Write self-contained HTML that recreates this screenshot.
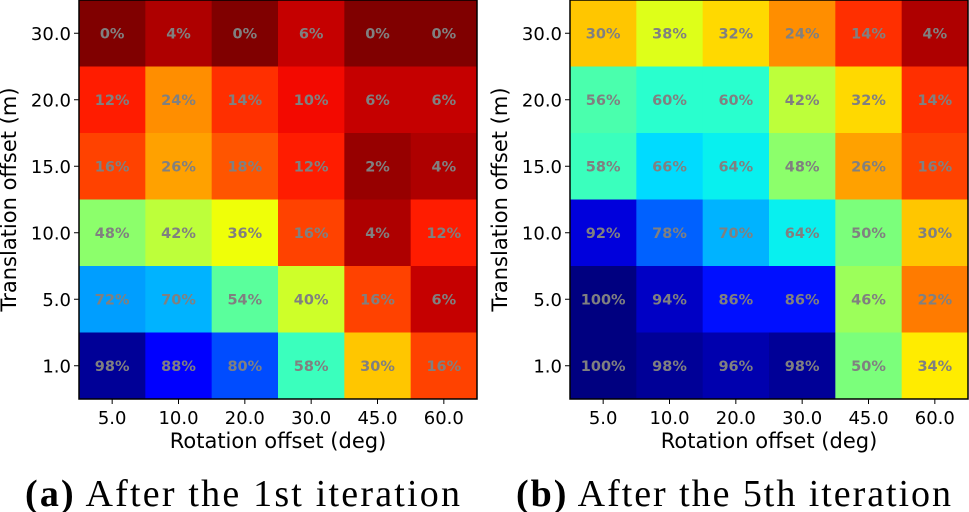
<!DOCTYPE html>
<html><head><meta charset="utf-8"><style>
body{margin:0;background:#fff;}
svg{display:block;}
</style></head><body>
<svg id="s" width="969" height="512" xmlns="http://www.w3.org/2000/svg"></svg>
<script>
const rotLabels=["5.0","10.0","20.0","30.0","45.0","60.0"];
const transLabels=["30.0","20.0","15.0","10.0","5.0","1.0"];
const valsA=[
[0,4,0,6,0,0],
[12,24,14,10,6,6],
[16,26,18,12,2,4],
[48,42,36,16,4,12],
[72,70,54,40,16,6],
[98,88,80,58,30,16]];
const valsB=[
[30,38,32,24,14,4],
[56,60,60,42,32,14],
[58,66,64,48,26,16],
[92,78,70,64,50,30],
[100,94,86,86,46,22],
[100,98,96,98,50,34]];
const NS="http://www.w3.org/2000/svg";
const svg=document.getElementById('s');
function mk(t,a,p){const e=document.createElementNS(NS,t);for(const k in a)e.setAttribute(k,a[k]);(p||svg).appendChild(e);return e;}
const segR=[[0,0],[0.35,0],[0.66,1],[0.89,1],[1,0.5]];
const segG=[[0,0],[0.125,0],[0.375,1],[0.64,1],[0.91,0],[1,0]];
const segB=[[0,0.5],[0.11,1],[0.34,1],[0.65,0],[1,0]];
function interp(seg,x){for(let i=1;i<seg.length;i++){if(x<=seg[i][0]){const [a,av]=seg[i-1],[b,bv]=seg[i];return av+(bv-av)*(x-a)/(b-a);}}return seg[seg.length-1][1];}
function jetR(v){const x=1-v;const c=f=>Math.round(255*Math.max(0,Math.min(1,f)));
return `rgb(${c(interp(segR,x))},${c(interp(segG,x))},${c(interp(segB,x))})`;}
function panel(x0,vals,name,capLetter,capText){
  const W=398,H=399,cw=W/6,ch=H/6;
  const g=mk('g',{});
  
  
  vals.forEach((row,r)=>row.forEach((v,c)=>{
    const rc=mk('rect',{x:x0+c*cw,y:r*ch,width:cw+0.5,height:ch+0.5,fill:jetR(v/100)},g);
    
    
    const t=mk('text',{x:x0+c*cw+cw/2,y:r*ch+ch/2+5,'text-anchor':'middle','font-family':'DejaVu Sans, sans-serif','font-weight':'bold','font-size':'14.5',fill:'#808080'},g);
    t.textContent=v+'%';
    
    
  }));
  const fr=mk('rect',{x:x0,y:0,width:W,height:H,fill:'none',stroke:'#000','stroke-width':1.5},g);
  
  
  rotLabels.forEach((l,i)=>{
    const x=x0+i*cw+cw/2;
    mk('line',{x1:x,x2:x,y1:H,y2:H+5,stroke:'#000'},g);
    const t=mk('text',{x:x,y:H+25,'text-anchor':'middle','font-family':'DejaVu Sans, sans-serif','font-size':'18'},g);
    t.textContent=l;
    
    
  });
  transLabels.forEach((l,i)=>{
    const y=i*ch+ch/2;
    mk('line',{x1:x0-5,x2:x0,y1:y,y2:y,stroke:'#000'},g);
    const t=mk('text',{x:x0-8,y:y+6.5,'text-anchor':'end','font-family':'DejaVu Sans, sans-serif','font-size':'18'},g);
    t.textContent=l;
    
    
  });
  const xt=mk('text',{x:x0+W/2,y:448,'text-anchor':'middle','font-family':'DejaVu Sans, sans-serif','font-size':'21'},g);
  xt.textContent='Rotation offset (deg)';
  
  
  const yt=mk('text',{x:0,y:0,'text-anchor':'middle','font-family':'DejaVu Sans, sans-serif','font-size':'21',transform:`translate(${x0-63},${H/2}) rotate(-90)`},g);
  yt.textContent='Translation offset (m)';
  
  
  const cap=mk('text',{x:x0-54,y:506,'font-family':'Liberation Serif, serif','font-size':'38',textLength:'435',lengthAdjust:'spacing'},g);
  const b=mk('tspan',{'font-weight':'bold'},cap);b.textContent=capLetter;
  const r=mk('tspan',{},cap);r.textContent=' '+capText;
  
  
}
panel(79,valsA,'heatmap-first-iteration','(a)','After the 1st iteration');
panel(570,valsB,'heatmap-fifth-iteration','(b)','After the 5th iteration');
</script>
</body></html>
